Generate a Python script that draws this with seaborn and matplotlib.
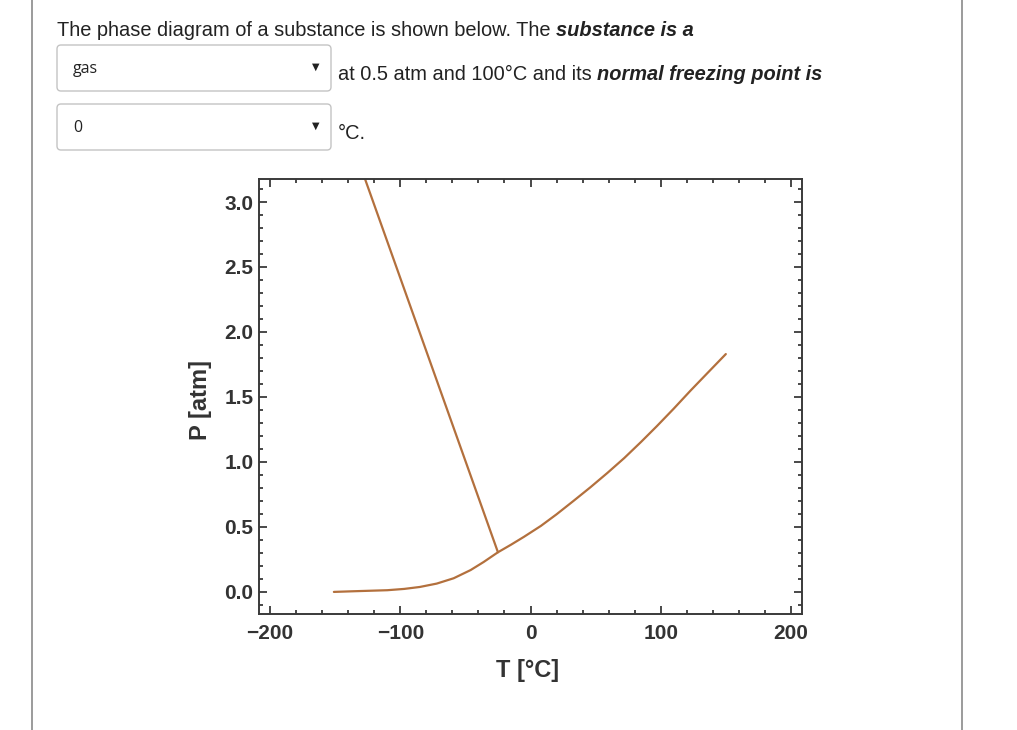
import numpy as np
import seaborn as sns
import matplotlib.pyplot as plt
import matplotlib.transforms as mtransforms
from matplotlib.patches import FancyBboxPatch
from matplotlib.lines import Line2D
from matplotlib.ticker import MultipleLocator

# Phase boundary data
# solid-gas / liquid-gas boundary
vap_T = [-151, -136, -110, -97, -85, -72, -59, -46, -36, -25,
         -15, -5, 8, 20, 33, 46, 59, 72, 85, 97, 110, 123, 136, 150]
vap_P = [0.0, 0.005, 0.013, 0.023, 0.038, 0.064, 0.105, 0.168, 0.230, 0.305,
         0.363, 0.424, 0.508, 0.597, 0.70, 0.805, 0.915, 1.03, 1.155, 1.275, 1.41, 1.55, 1.685, 1.83]
# solid-liquid boundary (runs off the top of the plot)
melt_T = [-25, -135]
melt_P = [0.305, 3.40]

x_ticks = [-200, -100, 0, 100, 200]
y_ticks = [0.0, 0.5, 1.0, 1.5, 2.0, 2.5, 3.0]

W, H = 1017, 730
line_color = "#b3703d"
text_color = "#222222"
label_color = "#333333"

sns.set_style("white")
plt.rcParams['font.family'] = ['Liberation Sans', 'DejaVu Sans']

fig = plt.figure(figsize=(W / 100, H / 100), dpi=100)
fig.patch.set_facecolor("white")
px = mtransforms.IdentityTransform()


def ypx(y):
    # convert a top-down pixel row to display coords
    return H - y


# page borders
fig.add_artist(Line2D([31.5, 31.5], [0, H], transform=px, color="#8a8a8a", lw=1.2))
fig.add_artist(Line2D([962, 962], [0, H], transform=px, color="#8a8a8a", lw=1.2))

renderer = fig.canvas.get_renderer()


def write_run(x, y, parts, size):
    for s, weight, style in parts:
        t = fig.text(x, ypx(y), s, transform=px, fontsize=size, weight=weight,
                     style=style, color=text_color, va="baseline", ha="left")
        x += t.get_window_extent(renderer).width


body = 14.4
write_run(57, 36, [("The phase diagram of a substance is shown below. The ", "normal", "normal"),
                   ("substance is a", "bold", "italic")], body)
write_run(338, 80, [("at 0.5 atm and 100°C and its ", "normal", "normal"),
                    ("normal freezing point is", "bold", "italic")], body)
write_run(338, 139, [("°C.", "normal", "normal")], body)

# dropdown boxes
for top, value in [(45, "gas"), (104, "0")]:
    box = FancyBboxPatch((57, ypx(top + 46)), 274, 46, transform=px,
                         boxstyle="round,pad=0,rounding_size=4",
                         facecolor="white", edgecolor="#c4c4c4", lw=1.0)
    fig.add_artist(box)
    fig.text(73, ypx(top + 24), value, transform=px, fontsize=11.5,
             family=["Open Sans", "DejaVu Sans"], color=text_color, va="center", ha="left")
    fig.text(316, ypx(top + 22), "▼", transform=px, fontsize=7,
             family="DejaVu Sans", color=text_color, va="center", ha="center")

# plot area
ax = fig.add_axes([259 / W, 1 - 614 / H, 543 / W, 435 / H])
sns.lineplot(x=vap_T, y=vap_P, sort=False, color=line_color, lw=1.6, ax=ax)
sns.lineplot(x=melt_T, y=melt_P, sort=False, color=line_color, lw=1.6, ax=ax)

ax.set_xlim(-208.5, 208.5)
ax.set_ylim(-0.17, 3.177)
ax.set_xticks(x_ticks)
ax.set_yticks(y_ticks)
ax.set_yticklabels([f"{v:.1f}" for v in y_ticks])
ax.xaxis.set_minor_locator(MultipleLocator(20))
ax.yaxis.set_minor_locator(MultipleLocator(0.1))
ax.tick_params(which="both", direction="in", top=True, right=True,
               bottom=True, left=True, color="#3a3a3a", width=1.3)
ax.tick_params(which="major", length=6, labelsize=15, labelcolor=label_color)
ax.tick_params(which="minor", length=3.2)
ax.tick_params(axis="x", pad=7)
ax.tick_params(axis="y", pad=4)
for lab in ax.get_xticklabels() + ax.get_yticklabels():
    lab.set_fontweight("bold")
for sp in ax.spines.values():
    sp.set_color("#3a3a3a")
    sp.set_linewidth(1.4)

ax.set_xlabel("T [°C]", fontsize=17, fontweight="bold", color=label_color, va="center")
ax.set_ylabel("P [atm]", fontsize=17, fontweight="bold", color=label_color, va="center")
ax.xaxis.set_label_coords((528 - 259) / 543, (614 - 670) / 435)
ax.yaxis.set_label_coords((201 - 259) / 543, (614 - 400) / 435)

fig.savefig("out.png", dpi=100, facecolor="white")
